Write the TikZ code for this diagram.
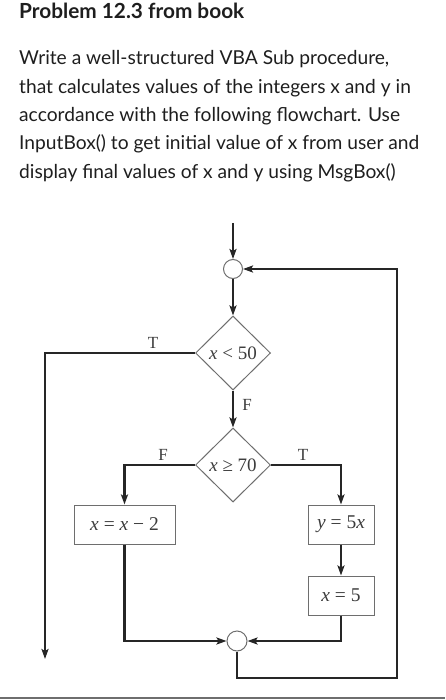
\documentclass[tikz,border=0pt]{standalone}
\usepackage{fontspec}
\setmainfont{Lato}
\newfontfamily\serf{Liberation Serif}
\usetikzlibrary{shapes.geometric,arrows.meta}
\definecolor{ink}{HTML}{1E1E1E}
\definecolor{conn}{HTML}{262626}
\definecolor{shp}{HTML}{6E6E6E}
\definecolor{lbl}{HTML}{3C3C3C}
\begin{document}
\begin{tikzpicture}[x=1pt,y=-1pt,
  para/.style={anchor=base west,inner sep=0pt,text=ink,font=\fontsize{19.2}{23}\selectfont},
  ttl/.style={anchor=base west,inner sep=0pt,text=ink,font=\fontsize{20.8}{24}\selectfont\bfseries},
  junc/.style={circle,draw=shp,line width=1pt,minimum size=19pt,inner sep=0pt},
  dec/.style={diamond,draw=shp,line width=1pt,minimum width=75pt,minimum height=74pt,inner sep=0pt,text=lbl,font=\fontsize{19}{21}\selectfont\serf},
  proc/.style={rectangle,draw=shp,line width=1pt,minimum height=39pt,inner sep=0pt,text=lbl,font=\fontsize{19.5}{21}\selectfont\serf},
  tf/.style={inner sep=0pt,text=lbl,font=\fontsize{17}{19}\selectfont\serf},
  flow/.style={draw=conn,line width=2.6pt,-{Stealth[length=10pt,width=7pt,inset=2pt]}},
  flown/.style={draw=conn,line width=2.6pt}]
\useasboundingbox (0,0) rectangle (445,700);
\node[ttl] (title) at (19,18.5) {Problem 12.3 from book};
\node[para] (l1) at (19,65) {Write a well-structured VBA Sub procedure,};
\node[para] (l2) at (19,93.3) {that calculates values of the integers x and y in};
\node[para] (l3) at (19,121.7) {accordance with the following flowchart. Use};
\node[para] (l4) at (19,150) {InputBox() to get initial value of x from user and};
\node[para] (l5) at (19,178.3) {display final values of x and y using MsgBox()};

\coordinate (start) at (233,223);
\node[junc] (c1) at (233,269) {};
\node[dec] (d1) at (233,353) {\itshape x\upshape\ < 50};
\node[dec] (d2) at (233,465) {\itshape x\upshape\ ≥ 70};
\node[proc,minimum width=101pt] (b1) at (124.5,524.5) {\itshape x\upshape\ = \itshape x\upshape\ − 2};
\node[proc,minimum width=66pt] (b2) at (341,524.5) {\itshape y\upshape\ = 5\itshape x};
\node[proc,minimum width=66pt] (b3) at (341,595.5) {\itshape x\upshape\ = 5};
\node[junc,minimum size=20pt] (c2) at (237,641) {};
\coordinate (lend) at (45,659);
\coordinate (bl) at (237,678);
\coordinate (br) at (397,678);
\coordinate (tr) at (397,269);

\node[tf] (t1) at (153,343) {T};
\node[tf] (f1) at (247,405) {F};
\node[tf] (f2) at (163,455) {F};
\node[tf] (t2) at (303,455) {T};

\draw[flow] (start) -- (c1.north);
\draw[flow] (c1.south) -- (d1.north);
\draw[flow] (d1.west) -| (lend);
\draw[flow] (d1.south) -- (d2.north);
\draw[flow] (d2.west) -| (b1.north);
\draw[flow] (d2.east) -| (b2.north);
\draw[flow] (b2.south) -- (b3.north);
\draw[flow] (b1.south) |- (c2.west);
\draw[flow] (b3.south) |- (c2.east);
\draw[flow] (c2.south) -- (bl) -- (br) -- (tr) -- (c1.east);

\draw[draw=shp,line width=1.5pt] (0,698) -- (445,698);
\end{tikzpicture}
\end{document}
